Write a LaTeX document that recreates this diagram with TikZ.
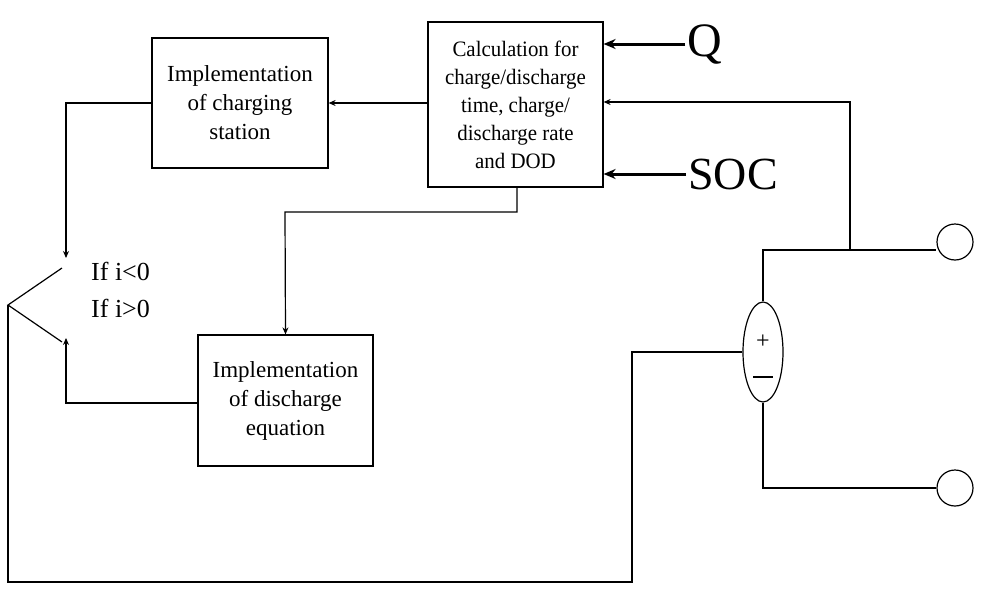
\documentclass[tikz,border=0pt]{standalone}
\usepackage{fontspec}
\setmainfont{Liberation Serif}
\usetikzlibrary{arrows.meta,shapes.geometric}
\begin{document}
\begin{tikzpicture}[x=1pt,y=-1pt,
  blk/.style={draw,line width=1.2pt,inner sep=0pt,align=center,font=\fontsize{23}{29}\selectfont},
  wire/.style={draw,line width=1.2pt},
  arr/.style={wire,-{Stealth[length=7pt,width=6pt]}},
  big/.style={-{Stealth[length=12pt,width=10pt]},line width=3pt}]
\useasboundingbox (0,0) rectangle (989,600);
\node[blk,minimum width=175pt,minimum height=165pt,font=\fontsize{22}{28}\selectfont] (calc) at (515.5,104.5) {\scalebox{0.95}[1]{Calculation for}\\\scalebox{0.95}[1]{charge/discharge}\\\scalebox{0.95}[1]{time, charge/}\\\scalebox{0.95}[1]{discharge rate}\\\scalebox{0.95}[1]{and DOD}};
\node[blk,minimum width=176pt,minimum height=130pt] (chg) at (240,103) {Implementation\\of charging\\station};
\node[blk,minimum width=175pt,minimum height=131pt] (dis) at (285.5,400.5) {Implementation\\of discharge\\equation};
\node[ellipse,draw,line width=1.2pt,minimum width=40pt,minimum height=100pt,inner sep=0pt] (src) at (763,352) {};
\node[font=\fontsize{24}{24}\selectfont] at (763,342) {+};
\draw[line width=2pt] (753,377) -- (773,377);
\node[circle,draw,line width=1.2pt,minimum size=36pt,inner sep=0pt] (t1) at (955,242) {};
\node[circle,draw,line width=1.2pt,minimum size=36pt,inner sep=0pt] (t2) at (955,488) {};
\coordinate (swtop) at (66,258);
\coordinate (swbot) at (66,338);
\coordinate (piv) at (8,305);
\coordinate (jn) at (850,250);
\draw[arr] (calc.west |- 0,103) -- (chg.east |- 0,103);
\draw[arr] (chg.west) -- (66,103) -- (swtop);
\draw[wire] (62,268) -- (piv) -- (62,342);
\draw[arr] (dis.west |- 0,403) -- (66,403) -- (swbot);
\draw[wire] (piv) -- (8,582) -- (632,582) -- (632,352) -- (src.west);
\draw[arr] (517,187) -- (517,212) -- (285,212) -- (dis.north);
\draw[wire] (src.north) -- (763,250) -- (t1.west |- 0,250);
\draw[arr] (jn) -- (850,102) -- (calc.east |- 0,102);
\draw[wire] (src.south) -- (763,488) -- (t2.west);
\node[font=\fontsize{48}{48}\selectfont,inner sep=2pt] (q) at (705,44) {Q};
\node[font=\fontsize{46}{46}\selectfont,inner sep=2pt] (soc) at (733,174) {SOC};
\draw[big] (q.west) -- (calc.east |- q.west);
\draw[big] (soc.west) -- (calc.east |- soc.west);
\node[font=\fontsize{26}{37}\selectfont,align=left,anchor=north west,inner sep=0pt] (lab) at (91,262) {If i<0\\If i>0};
\end{tikzpicture}
\end{document}
